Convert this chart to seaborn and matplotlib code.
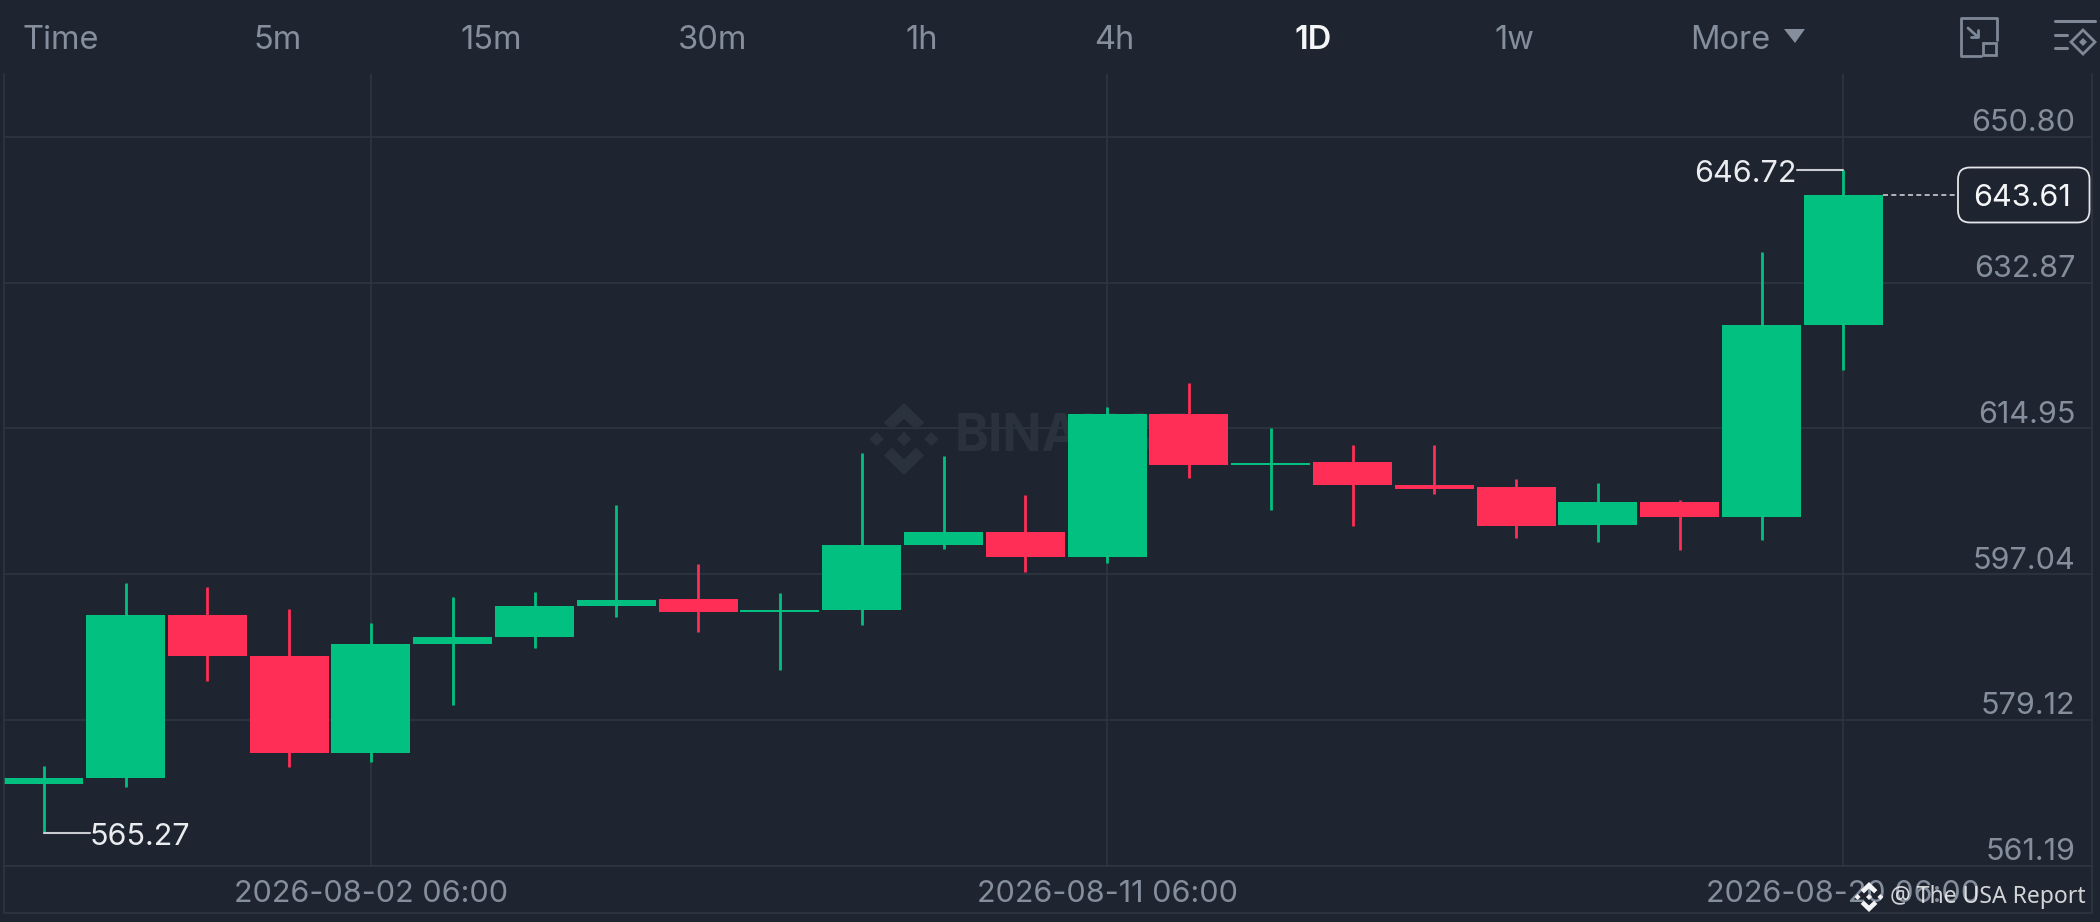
import numpy as np
import pandas as pd
import matplotlib
matplotlib.use('Agg')
import matplotlib.pyplot as plt
from matplotlib.patches import Polygon, Rectangle, FancyBboxPatch
from matplotlib.lines import Line2D
from matplotlib.transforms import IdentityTransform, ScaledTranslation
import seaborn as sns

# candle values
opens = [571.23, 571.93, 591.97, 586.96, 575.08, 588.40, 589.30, 593.11, 594.00, 592.38, 592.60, 600.61,
         602.21, 599.17, 616.67, 610.40, 610.81, 608.01, 607.70, 603.07, 605.87, 604.06, 627.60]
closes = [571.93, 591.97, 586.96, 575.08, 588.40, 589.30, 593.11, 593.81, 592.38, 592.60, 600.61, 602.21,
          599.17, 616.67, 610.40, 610.73, 608.01, 607.50, 602.91, 605.87, 604.06, 627.60, 643.61]
highs = [573.48, 595.98, 595.41, 592.71, 590.98, 594.25, 594.87, 605.53, 598.30, 594.68, 611.96, 611.51,
         606.76, 617.61, 620.49, 614.95, 612.95, 612.95, 608.67, 608.18, 606.20, 636.65, 646.72]
lows = [565.27, 570.90, 583.89, 573.36, 573.93, 580.90, 587.91, 591.72, 589.90, 585.30, 590.73, 600.08,
        597.29, 598.36, 608.81, 604.91, 602.91, 606.86, 601.43, 600.94, 599.95, 601.26, 622.16]

price_ticks = [650.80, 632.87, 614.95, 597.04, 579.12, 561.19]
date_ticks = [4, 13, 22]
date_labels = ['2026-08-02 06:00', '2026-08-11 06:00', '2026-08-20 06:00']
tabs = ['5m', '15m', '30m', '1h', '4h', '1D', '1w']
tab_centers = [278, 491, 713, 922, 1114, 1313, 1514]

BG = '#1E2530'
GRID = '#2E3642'
MUTED = '#848E9C'
GREEN = '#02C07F'
RED = '#FF2E56'
W, H = 2100, 922
FS = 22

sns.set_theme(style='dark')
plt.rcParams['font.family'] = ['Inter', 'DejaVu Sans']

fig = plt.figure(figsize=(21, 9.22), dpi=100, facecolor=BG)
ax = fig.add_axes([4 / W, 1 - 865.7 / H, 2088 / W, (865.7 - 74) / H], facecolor=BG)

df = pd.DataFrame({'i': range(len(opens)), 'open': opens, 'close': closes, 'high': highs, 'low': lows})
df['bottom'] = df[['open', 'close']].min(axis=1)
df['body'] = (df['close'] - df['open']).abs()
df['dir'] = np.where(df['close'] >= df['open'], 'up', 'down')
palette = {'up': GREEN, 'down': RED}

# wicks under the bodies
ax.vlines(df['i'], df['low'], df['high'], colors=df['dir'].map(palette), linewidth=2, zorder=3)
for name, sub in df.groupby('dir'):
    sns.barplot(data=sub, x='i', y='body', bottom=sub['bottom'].values, color=palette[name], saturation=1,
                native_scale=True, width=0.966, linewidth=0, ax=ax, zorder=4)

ax.set_xlim(-0.486, 25.04)
ax.set_ylim(561.19, 658.51)
ax.set_xlabel('')
ax.set_ylabel('')
for s in ax.spines.values():
    s.set_visible(False)

ax.set_xticks(date_ticks, date_labels)
ax.yaxis.tick_right()
ax.set_yticks(price_ticks, [f'{v:.2f}' for v in price_ticks])
ax.grid(True, color=GRID, linewidth=1.1, zorder=0)
ax.set_axisbelow(True)
ax.tick_params(axis='x', length=0, pad=10, labelsize=FS, labelcolor=MUTED)
ax.tick_params(axis='y', length=0, pad=-12, labelsize=FS, labelcolor=MUTED)
up = ScaledTranslation(0, -0.5 / 100, fig.dpi_scale_trans)
for lab in ax.get_yticklabels():
    lab.set_ha('right')
    lab.set_va('bottom')
    lab.set_transform(lab.get_transform() + up)

px = IdentityTransform()


def gy(y):
    return H - y


def logo(target, cx, cy, r, color, zorder):
    # small diamonds + two chevrons
    parts = [[(0, .2), (.2, 0), (0, -.2), (-.2, 0)],
             [(-.76, .2), (-.56, 0), (-.76, -.2), (-.96, 0)],
             [(.76, .2), (.96, 0), (.76, -.2), (.56, 0)],
             [(0, 1), (.56, .46), (.34, .24), (0, .56), (-.34, .24), (-.56, .46)],
             [(0, -1), (.56, -.46), (.34, -.24), (0, -.56), (-.34, -.24), (-.56, -.46)]]
    for p in parts:
        pts = [(cx + a * r, gy(cy) + b * r) for a, b in p]
        target(Polygon(pts, closed=True, facecolor=color, edgecolor='none', transform=px, zorder=zorder))


# faint watermark behind the candles
logo(ax.add_patch, 904, 439, 36, '#2A323E', 1)
ax.text(955, gy(438), 'BINANCE', transform=px, color='#2A323E', fontsize=37, fontweight='bold',
        va='center', ha='left', zorder=1)

# high / low callouts
i_hi = df['high'].idxmax()
i_lo = df['low'].idxmin()
label_shift = ScaledTranslation(0, -4 / 100, fig.dpi_scale_trans)
ax.plot([i_hi - 0.57, i_hi], [highs[i_hi]] * 2, color='#C9CDD3', linewidth=1.5, zorder=5)
ax.text(i_hi - 0.57, highs[i_hi], f'{highs[i_hi]:.2f}', color='#EAECEF', fontsize=FS, ha='right', va='center',
        zorder=6, transform=ax.transData + label_shift)
ax.plot([i_lo, i_lo + 0.56], [lows[i_lo]] * 2, color='#C9CDD3', linewidth=1.5, zorder=5)
ax.text(i_lo + 0.56, lows[i_lo], f'{lows[i_lo]:.2f}', color='#EAECEF', fontsize=FS, ha='left', va='center',
        zorder=6, transform=ax.transData + label_shift)

# last price
last = closes[-1]
ax.plot([len(closes) - 1 + 0.483, 23.4], [last, last], color='#C9CDD3', linewidth=1.2, linestyle=(0, (3, 2)), zorder=5)
fig.add_artist(FancyBboxPatch((1958, gy(222.5)), 131.5, 55, boxstyle='round,pad=0,rounding_size=12',
                              transform=px, facecolor=BG, edgecolor='#E4E6EA', linewidth=1.3, zorder=6))
fig.text(2022, gy(198), f'{last:.2f}', transform=px, color='#F5F6F7', fontsize=FS, ha='center', va='center', zorder=7)

# header tabs
HEAD = 23.5
fig.text(22, gy(40.5), 'Time', transform=px, color=MUTED, fontsize=HEAD, ha='left', va='center')
for name, cx in zip(tabs, tab_centers):
    active = name == '1D'
    fig.text(cx, gy(40.5), name, transform=px, color='#F5F6F7' if active else MUTED, fontsize=HEAD,
             fontweight='semibold' if active else 'normal', ha='center', va='center')
fig.text(1730, gy(40.5), 'More', transform=px, color=MUTED, fontsize=HEAD, ha='center', va='center')
fig.add_artist(Polygon([(1784, gy(29)), (1805, gy(29)), (1795, gy(43))], closed=True, facecolor=MUTED,
                       edgecolor='none', transform=px))

# header icons
ICON = '#7F8897'
fig.add_artist(Line2D([1981, 1961, 1961, 1997, 1997], [gy(56), gy(56), gy(18), gy(18), gy(40)], color=ICON, lw=2, transform=px))
fig.add_artist(Rectangle((1983, gy(55)), 13, 12, fill=False, edgecolor=ICON, lw=2, transform=px))
fig.add_artist(Line2D([1968, 1978], [gy(28), gy(37)], color=ICON, lw=2, transform=px))
fig.add_artist(Line2D([1971, 1978, 1978], [gy(37), gy(37), gy(30)], color=ICON, lw=2, transform=px))
fig.add_artist(Line2D([2055, 2095], [gy(21), gy(21)], color=ICON, lw=2.2, transform=px))
fig.add_artist(Line2D([2055, 2067], [gy(35), gy(35)], color=ICON, lw=2.2, transform=px))
fig.add_artist(Line2D([2055, 2067], [gy(48), gy(48)], color=ICON, lw=2.2, transform=px))
fig.add_artist(Polygon([(2083, gy(30)), (2095, gy(42)), (2083, gy(54)), (2071, gy(42))], closed=True, fill=False,
                       edgecolor=ICON, lw=2, transform=px))
fig.add_artist(Polygon([(2083, gy(38)), (2087, gy(42)), (2083, gy(46)), (2079, gy(42))], closed=True, facecolor=ICON,
                       edgecolor='none', transform=px))

# chart frame
fig.add_artist(Line2D([4, 2092], [gy(865.7), gy(865.7)], color=GRID, lw=1.1, transform=px, zorder=1))
fig.add_artist(Line2D([4, 2092], [gy(913), gy(913)], color=GRID, lw=1.1, transform=px, zorder=1))
fig.add_artist(Line2D([4, 4], [gy(74), gy(913)], color=GRID, lw=1.1, transform=px, zorder=1))
fig.add_artist(Line2D([2092, 2092], [gy(74), gy(913)], color=GRID, lw=1.1, transform=px, zorder=1))

# source watermark over the last date
logo(fig.add_artist, 1869, 897, 15, '#F2F3F5', 8)
fig.text(1890, gy(897), '@ The USA Report', transform=px, color='#F2F3F5', alpha=0.85, fontsize=16.5,
         family='Noto Sans', ha='left', va='center', zorder=8)

fig.savefig('out.png', dpi=100, facecolor=BG)
